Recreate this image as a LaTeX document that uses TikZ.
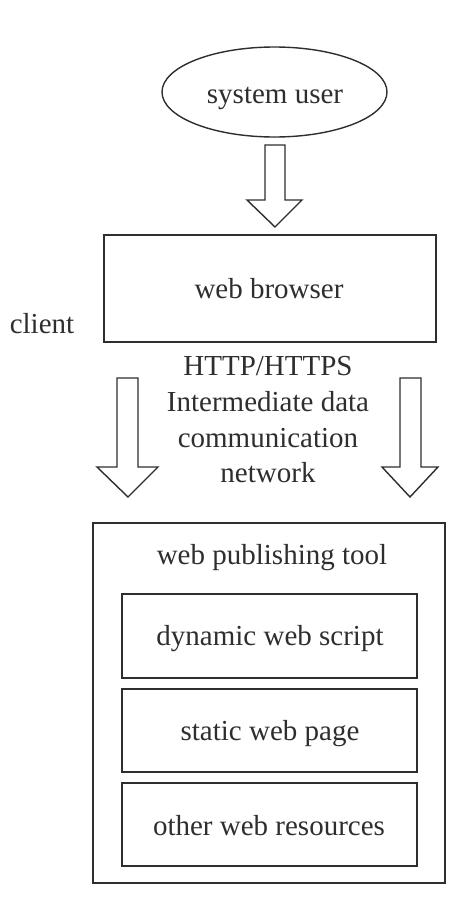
\documentclass[tikz,border=0pt]{standalone}
\usepackage{fontspec}
\setmainfont{Liberation Serif}
\usetikzlibrary{shapes.geometric}
\definecolor{ink}{HTML}{2E2E2E}
\begin{document}
\begin{tikzpicture}[x=1pt,y=-1pt,
  every node/.style={font=\fontsize{29}{36}\selectfont, text=ink},
  txt/.style={anchor=base, inner sep=0pt},
  frame/.style={draw=ink, line width=1.4pt, inner sep=0pt},
  blockarrow/.style={draw=ink, line width=1.4pt, line join=miter, fill=white}]
\useasboundingbox (0,0) rectangle (474,913);
% frames
\node[frame, ellipse, minimum width=225pt, minimum height=90pt] (user) at (274.5,92) {};
\node[frame, minimum width=332pt, minimum height=107pt] (browser) at (270,288.5) {};
\node[frame, minimum width=352pt, minimum height=360pt] (tool) at (269,703) {};
\node[frame, minimum width=295pt, minimum height=84pt] (dyn) at (269.5,636) {};
\node[frame, minimum width=295pt, minimum height=83pt] (stat) at (269.5,730.5) {};
\node[frame, minimum width=295pt, minimum height=83pt] (other) at (269.5,824.5) {};
% texts
\node[txt] (usertxt) at (275,103) {system user};
\node[txt] (browsertxt) at (269,298) {web browser};
\node[txt] (client) at (42,333) {client};
\node[txt] (net1) at (268,375) {HTTP/HTTPS};
\node[txt] (net2) at (268,411) {Intermediate data};
\node[txt] (net3) at (268,447) {communication};
\node[txt] (net4) at (268,482) {network};
\node[txt] (tooltitle) at (272,564) {web publishing tool};
\node[txt] (dyntxt) at (270,645) {dynamic web script};
\node[txt] (stattxt) at (270,740) {static web page};
\node[txt] (othertxt) at (269,835) {other web resources};
% block arrows
\draw[blockarrow] (265,145) -- (285,145) -- (285,200) -- (302,200) -- (275,227) -- (247,200) -- (265,200) -- cycle;
\draw[blockarrow] (117,378) -- (138,378) -- (138,467) -- (158,467) -- (128,497) -- (97,467) -- (117,467) -- cycle;
\draw[blockarrow] (400,378) -- (421,378) -- (421,467) -- (438,467) -- (410,497) -- (382,467) -- (400,467) -- cycle;
\end{tikzpicture}
\end{document}
